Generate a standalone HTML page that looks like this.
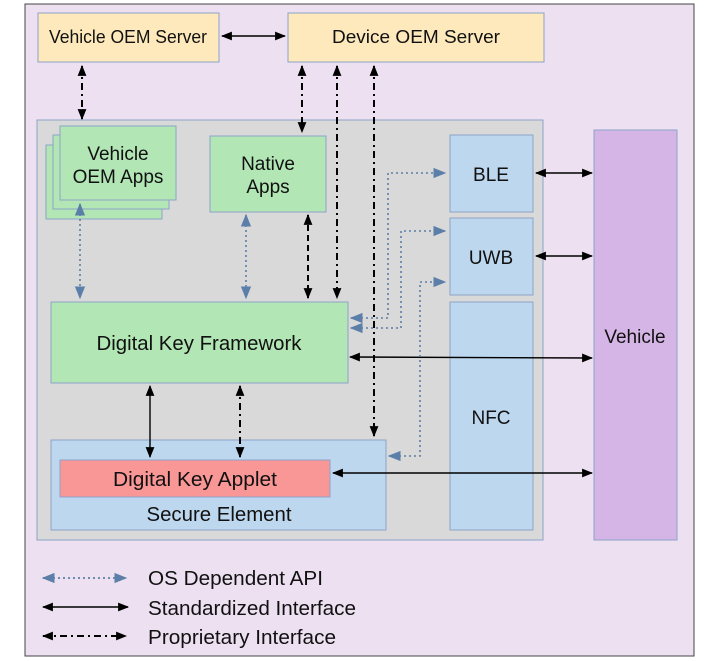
<!DOCTYPE html>
<html><head><meta charset="utf-8"><style>
html,body{margin:0;padding:0;background:#fff}
svg{display:block}
text{font-family:"Liberation Sans",Arial,sans-serif;fill:#111}
</style></head><body>
<svg width="713" height="661" viewBox="0 0 713 661" xmlns="http://www.w3.org/2000/svg">
<defs>
<marker id="ab" viewBox="0 0 10 10" refX="9" refY="5" markerWidth="11" markerHeight="11" markerUnits="userSpaceOnUse" orient="auto-start-reverse"><path d="M0,1 L10,5 L0,9 z" fill="#000"/></marker>
<marker id="au" viewBox="0 0 10 10" refX="9" refY="5" markerWidth="13" markerHeight="13" markerUnits="userSpaceOnUse" orient="auto-start-reverse"><path d="M0,1 L10,5 L0,9 z" fill="#5b7fa8"/></marker>
</defs>
<rect x="25" y="4" width="669" height="652" fill="#ede0f1" stroke="#444" stroke-width="1"/>
<rect x="38" y="13" width="181" height="49" fill="#fde9bb" stroke="#8da3c8"/>
<text x="128" y="43" font-size="18" text-anchor="middle" textLength="158" lengthAdjust="spacingAndGlyphs">Vehicle OEM Server</text>
<rect x="288" y="13" width="256" height="49" fill="#fde9bb" stroke="#8da3c8"/>
<text x="416" y="43" font-size="18" text-anchor="middle" textLength="168" lengthAdjust="spacingAndGlyphs">Device OEM Server</text>
<rect x="37" y="120" width="506" height="420" fill="#d9d9d9" stroke="#8da3c8"/>
<rect x="46" y="145" width="116" height="74" fill="#b2e6b5" stroke="#8da3c8"/>
<rect x="53" y="135" width="116" height="74" fill="#b2e6b5" stroke="#8da3c8"/>
<rect x="60" y="126" width="116" height="74" fill="#b2e6b5" stroke="#8da3c8"/>
<text x="118" y="160" font-size="19" text-anchor="middle">Vehicle</text>
<text x="118" y="183" font-size="19" text-anchor="middle">OEM Apps</text>
<rect x="210" y="136" width="116" height="76" fill="#b2e6b5" stroke="#8da3c8"/>
<text x="268" y="170" font-size="19" text-anchor="middle">Native</text>
<text x="268" y="193" font-size="19" text-anchor="middle">Apps</text>
<rect x="450" y="135" width="83" height="77" fill="#bdd7ee" stroke="#8da3c8"/>
<text x="491" y="181" font-size="19" text-anchor="middle">BLE</text>
<rect x="450" y="218" width="83" height="77" fill="#bdd7ee" stroke="#8da3c8"/>
<text x="491" y="264" font-size="19" text-anchor="middle">UWB</text>
<rect x="450" y="302" width="83" height="228" fill="#bdd7ee" stroke="#8da3c8"/>
<text x="491" y="424" font-size="19" text-anchor="middle">NFC</text>
<rect x="594" y="130" width="83" height="410" fill="#d5b5e6" stroke="#8da3c8"/>
<text x="635" y="343" font-size="19" text-anchor="middle">Vehicle</text>
<rect x="51" y="302" width="297" height="81" fill="#b2e6b5" stroke="#8da3c8"/>
<text x="199" y="350" font-size="20" text-anchor="middle" textLength="205" lengthAdjust="spacingAndGlyphs">Digital Key Framework</text>
<rect x="51" y="440" width="335" height="90" fill="#bdd7ee" stroke="#8da3c8"/>
<rect x="60" y="460" width="270" height="37" fill="#f99696" stroke="#8da3c8"/>
<text x="195" y="486" font-size="20" text-anchor="middle" textLength="164" lengthAdjust="spacingAndGlyphs">Digital Key Applet</text>
<text x="219" y="521" font-size="20" text-anchor="middle" textLength="145" lengthAdjust="spacingAndGlyphs">Secure Element</text>
<g stroke="#000" stroke-width="1.4" fill="none">
<line x1="222" y1="36" x2="285" y2="36" marker-start="url(#ab)" marker-end="url(#ab)"/>
<line x1="536" y1="173" x2="592" y2="173" marker-start="url(#ab)" marker-end="url(#ab)"/>
<line x1="536" y1="256" x2="592" y2="256" marker-start="url(#ab)" marker-end="url(#ab)"/>
<line x1="350" y1="357" x2="592" y2="358" marker-start="url(#ab)" marker-end="url(#ab)"/>
<line x1="333" y1="473" x2="592" y2="473" marker-start="url(#ab)" marker-end="url(#ab)"/>
<line x1="150" y1="386" x2="150" y2="457" marker-start="url(#ab)" marker-end="url(#ab)"/>
</g>
<g stroke="#000" stroke-width="2" fill="none" stroke-dasharray="7,4,2,4">
<line x1="82" y1="66" x2="82" y2="119" marker-start="url(#ab)" marker-end="url(#ab)"/>
<line x1="302" y1="66" x2="302" y2="132" marker-start="url(#ab)" marker-end="url(#ab)"/>
<line x1="337" y1="66" x2="337" y2="298" marker-start="url(#ab)" marker-end="url(#ab)"/>
<line x1="374" y1="66" x2="374" y2="436" marker-start="url(#ab)" marker-end="url(#ab)"/>
<line x1="240" y1="386" x2="240" y2="457" marker-start="url(#ab)" marker-end="url(#ab)"/>
</g>
<g stroke="#000" stroke-width="2" fill="none" stroke-dasharray="6,4">
<line x1="308" y1="215" x2="308" y2="298" marker-start="url(#ab)" marker-end="url(#ab)"/>
</g>
<g stroke="#5b7fa8" stroke-width="1.6" fill="none" stroke-dasharray="2,3">
<line x1="80" y1="204" x2="80" y2="298" marker-start="url(#au)" marker-end="url(#au)"/>
<line x1="246" y1="215" x2="246" y2="298" marker-start="url(#au)" marker-end="url(#au)"/>
<polyline points="351,318 388,318 388,173 445,173" marker-start="url(#au)" marker-end="url(#au)"/>
<polyline points="351,328 401,328 401,231 445,231" marker-start="url(#au)" marker-end="url(#au)"/>
<polyline points="389,456 420,456 420,282 445,282" marker-start="url(#au)" marker-end="url(#au)"/>
</g>
<line x1="43" y1="578" x2="126" y2="578" stroke="#5b7fa8" stroke-width="1.8" stroke-dasharray="2,3" marker-start="url(#au)" marker-end="url(#au)"/>
<text x="148" y="585" font-size="20" textLength="175" lengthAdjust="spacingAndGlyphs">OS Dependent API</text>
<line x1="43" y1="607" x2="128" y2="607" stroke="#000" stroke-width="1.4" marker-start="url(#ab)" marker-end="url(#ab)"/>
<text x="148" y="615" font-size="20" textLength="208" lengthAdjust="spacingAndGlyphs">Standardized Interface</text>
<line x1="43" y1="636" x2="126" y2="636" stroke="#000" stroke-width="2" stroke-dasharray="7,4,2,4" marker-start="url(#ab)" marker-end="url(#ab)"/>
<text x="148" y="644" font-size="20" textLength="188" lengthAdjust="spacingAndGlyphs">Proprietary Interface</text>
</svg>
</body></html>
